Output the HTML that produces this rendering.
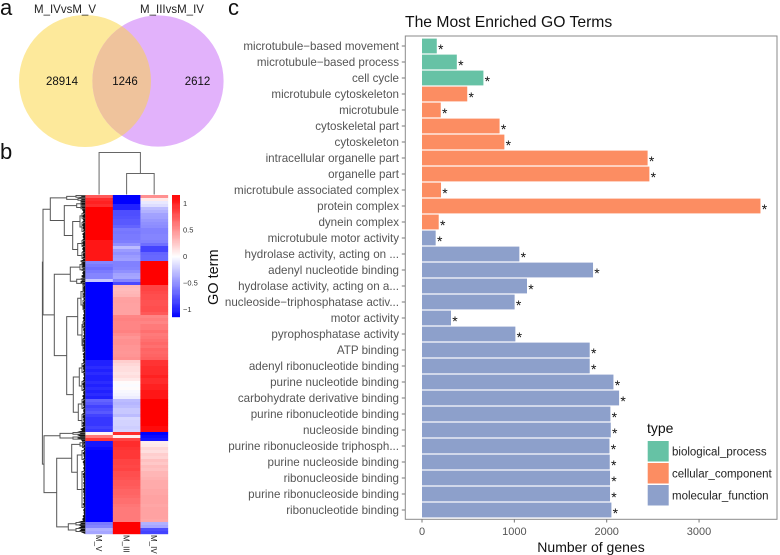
<!DOCTYPE html>
<html lang="en">
<head>
<meta charset="utf-8">
<title>GO enrichment figure</title>
<style>
html,body{margin:0;padding:0;background:#fff;}
#figure{display:block;width:780px;height:555px;overflow:hidden;font-family:"Liberation Sans",Arial,sans-serif;}
</style>
</head>
<body>
<svg id="figure" xmlns="http://www.w3.org/2000/svg" width="780" height="555" viewBox="0 0 780 555">
  <rect x="0" y="0" width="780" height="555" fill="#fff"/>
  <text x="0" y="15" font-size="22" fill="#111">a</text>
  <text x="0" y="159" font-size="22" fill="#111">b</text>
  <text x="228" y="15" font-size="22" fill="#111">c</text>

  <g>
    <defs><clipPath id="venn-clip"><circle cx="85" cy="81" r="66"/></clipPath></defs>
    <circle cx="85" cy="81" r="66" fill="#FDE99B"/>
    <circle cx="158" cy="81" r="65.6" fill="#E2B2FB"/>
    <circle cx="158" cy="81" r="65.6" fill="#EFC39C" clip-path="url(#venn-clip)"/>
    <text x="65" y="13" font-size="11.5" text-anchor="middle" fill="#222">M_IVvsM_V</text>
    <text x="172" y="13" font-size="11.5" text-anchor="middle" fill="#222">M_IIIvsM_IV</text>
    <text x="62" y="85" font-size="11.5" text-anchor="middle" fill="#111">28914</text>
    <text x="125" y="85" font-size="11.5" text-anchor="middle" fill="#111">1246</text>
    <text x="197.500" y="85" font-size="11.5" text-anchor="middle" fill="#111">2612</text>
  </g>

  <g id="heatmap"></g>
  <g id="col-dendrogram"></g>
  <g id="row-dendrogram"></g>
  <g id="colorbar"></g>
  <text transform="translate(218,305) rotate(-90)" font-size="14.500" fill="#111">GO term</text>

  <text x="405" y="27" font-size="15.700" fill="#111">The Most Enriched GO Terms</text>
  <g id="bar-chart"></g>
  <text x="591" y="552" font-size="14" text-anchor="middle" fill="#111">Number of genes</text>

  <g id="legend"></g>
</svg>

<script>
var NS = "http://www.w3.org/2000/svg";

/* ---------- bar chart data ---------- */
var goTerms = ["microtubule\u2212based movement","microtubule\u2212based process","cell cycle","microtubule cytoskeleton","microtubule","cytoskeletal part","cytoskeleton","intracellular organelle part","organelle part","microtubule associated complex","protein complex","dynein complex","microtubule motor activity","hydrolase activity, acting on ...","adenyl nucleotide binding","hydrolase activity, acting on a...","nucleoside\u2212triphosphatase activ...","motor activity","pyrophosphatase activity","ATP binding","adenyl ribonucleotide binding","purine nucleotide binding","carbohydrate derivative binding","purine ribonucleotide binding","nucleoside binding","purine ribonucleoside triphosph...","purine nucleoside binding","ribonucleoside binding","purine ribonucleoside binding","ribonucleotide binding"];
var geneCounts = [160,377,665,490,203,840,892,2443,2462,206,3665,181,148,1054,1852,1137,1003,314,1011,1816,1816,2073,2134,2040,2044,2030,2033,2036,2036,2051];
var termTypes = ["bp","bp","bp","cc","cc","cc","cc","cc","cc","cc","cc","cc","mf","mf","mf","mf","mf","mf","mf","mf","mf","mf","mf","mf","mf","mf","mf","mf","mf","mf"];
var xTicks = [0,1000,2000,3000];
var legendKeys = ["bp","cc","mf"];
var legendLabels = ["biological_process","cellular_component","molecular_function"];

/* ---------- heatmap data ---------- */
var heatColumns = ["M_V","M_III","M_IV"];
var valuesMV = [0.75,0.95,1,0.95,1.15,1.15,1.15,1.15,1.15,1.15,1.15,1.15,1.15,1.15,1.15,1.05,1.05,1.05,1.05,1.05,1.05,1.05,-0.55,-0.6,-0.65,-0.6,-0.55,-0.55,-0.25,-1.15,-1.15,-1.15,-1.15,-1.15,-1.15,-1.15,-1.15,-1.15,-1.15,-1.15,-1.15,-1.15,-1.15,-1.15,-1.15,-1.15,-1.15,-1.15,-1.15,-1.15,-1.15,-1.15,-1.15,-1.15,-1.15,-1,-1,-0.95,-1,-0.95,-1,-1,-0.95,-1,-0.95,-1,-0.95,-1,-0.7,-0.75,-0.85,-0.8,-0.75,-0.85,-0.9,-0.9,-0.9,-0.85,-0.9,0.05,0.6,0.9,-1.05,-1.05,-1.1,-1.15,-1.15,-1.15,-1.15,-1.15,-1.15,-1.15,-1.15,-1.15,-1.15,-1.15,-1.15,-1.15,-1.15,-1.15,-1.15,-1.15,-1.15,-1.15,-1.15,-1.15,-1.15,-1.15,-1.15,-0.6,-0.55,-0.35,-0.4];
var valuesMIII = [-1.15,-1.15,-1.15,-1,-1,-0.8,-0.8,-0.78,-0.75,-0.75,-0.7,-0.6,-0.62,-0.6,-0.6,-0.58,-0.5,-0.3,-0.45,-0.5,-0.45,-0.43,-0.57,-0.57,-0.55,-0.5,-0.42,-0.4,-0.55,-0.82,0.32,0.3,0.32,0.34,0.42,0.43,0.42,0.42,0.42,0.42,0.55,0.57,0.55,0.55,0.55,0.57,0.52,0.48,0.5,0.5,0.48,0.48,0.47,0.48,0.5,0.22,0.18,0.15,0.15,0.12,0.15,0.1,0.02,-0.02,0.02,-0.03,-0.05,-0.08,-0.3,-0.33,-0.3,-0.25,-0.25,-0.3,-0.18,-0.2,-0.2,-0.22,-0.2,0.95,0.08,0.85,0.95,0.95,0.92,0.9,0.9,0.9,0.85,0.85,0.83,0.85,0.8,0.8,0.78,0.75,0.75,0.73,0.7,0.7,0.68,0.65,0.65,0.62,0.6,0.6,0.6,0.6,0.6,1.15,1.15,1.15,1.15];
var valuesMIV = [0.5,0.1,-0.1,-0.15,-0.3,-0.35,-0.42,-0.43,-0.47,-0.5,-0.52,-0.57,-0.57,-0.55,-0.55,-0.57,-0.65,-0.85,-0.85,-0.7,-0.68,-0.68,1.15,1.15,1.15,1.15,1.15,1.15,1.15,1.15,0.85,0.85,0.82,0.8,0.8,0.78,0.78,0.8,0.8,0.75,0.55,0.58,0.55,0.6,0.6,0.65,0.6,0.62,0.65,0.68,0.65,0.7,0.68,0.7,0.72,0.92,0.92,0.95,0.95,0.95,1,0.95,0.95,1,1,1.05,1.05,1.05,1.15,1.15,1.15,1.15,1.15,1.15,1.15,1.15,1.15,1.1,1.1,-1.15,-1.1,-1.05,0.08,0.1,0.18,0.15,0.22,0.2,0.28,0.25,0.3,0.28,0.33,0.33,0.35,0.38,0.38,0.38,0.4,0.4,0.42,0.42,0.42,0.4,0.42,0.42,0.42,0.42,0.4,-0.35,-0.4,-0.8,-0.85];
var colorbarTicks = [1,0.5,0,-0.5,-1];
var colorbarLabels = ["1","0.5","0","\u22120.5","\u22121"];

/* Row dendrogram: [merge height, childA, childB]; a bare number is a row index. */
var rowTree = [42.6,
  [42,
    [34.7,
      [18.3,[9,0,0.6],[7,1,1.6]],
      [20.7,
        [8.3,[4,2.3,3.2],[4,3.6,4.4]],
        [12.3,[5,[3,6,7.6],[3,9,12]],[7.3,[3,15,17],[3,19,21]]]]],
    [30.7,
      [14.7,[5,[3,22,24],[3,24.5,25]],[8.3,[3,27.6,28.2],[2.5,29,29.6]]],
      [18.3,
        [7.3,[4,[2,30,34],[2,35,38]],[3,[2,42,44],[2,48,52]]],
        [11.7,[5.7,[3,56,59],[3,62,65]],[6.7,[3,68,71],[3,73,77]]]]]],
  [41,
    [25,[12,79,79.6],[12,80.5,81.2]],
    [28.3,
      [13.3,[5,[2.5,82,82.8],[2.5,83,84]],[7.7,[3,85,88],[3,92,104]]],
      [16.7,[9,109,109.8],[9,111,112]]]]];
/* Depth of the dense leaf fringe, one value per heatmap row. */
var fringeDepth = [6,6,5,5,4,3,2.5,3,2.5,3,3,2.5,2,3,2.5,3,3,3.5,3,3,2.5,3,5,4,3.5,3,3,4,5,5,2,2.5,1.5,2,2.5,1.5,2,3,2.5,1.5,2,2.5,2,1.5,2.5,2,1.5,2,2.5,1.5,2,2,1.5,2.5,2,2.5,2,3,2,2.5,1.5,2,2.5,3,2,2.5,2,3,2.5,3,2,2.5,2,3,2.5,2,3,3,5,8,8,8,3,2.5,2,1.5,2.5,1.5,2,2.5,1.5,2,1.5,2.5,2,1.5,2,1.5,2.5,2,1.5,2,1.5,2.5,1.5,2,1.5,2.5,3,7,7,7,6];
/* Column dendrogram merge heights: lower merge of M_III/M_IV, then root. */
var colMergeLow = 21;
var colMergeRoot = 42;

var typeColors = {bp:"#66C2A5",cc:"#FC8D62",mf:"#8DA0CB"};

/* ---------- helpers and scales ---------- */
function make(parent, tag, attrs, text) {
  var el = document.createElementNS(NS, tag);
  for (var k in attrs) { el.setAttribute(k, attrs[k]); }
  if (text !== undefined) { el.textContent = text; }
  parent.appendChild(el);
  return el;
}
var barX = function (v) { return 422 + v * 0.09235; };
var barY = function (i) { return 46 + 16 * i; };
var rowHeight = 3;
var heatTop = 195;
var heatLeft = 85.3;
var heatColWidth = 27.55;
var rowY = function (i) { return heatTop + rowHeight * i; };
var colX = function (j) { return heatLeft + heatColWidth * j; };
var heightX = function (h) { return 85 - h; };
var cbarY = function (v) { return 256 - v * 53; };
function heatColor(v) {
  var t = Math.max(-1, Math.min(1, v / 1.15));
  var c = Math.round(255 * (1 - Math.abs(t)));
  return t >= 0 ? "rgb(255," + c + "," + c + ")" : "rgb(" + c + "," + c + ",255)";
}

/* ---------- bar chart ---------- */
var barChart = document.getElementById("bar-chart");
var panelBorder = make(barChart, "rect", {x:405.3,y:36,width:371.7,height:483.3,fill:"none",stroke:"#8a8a8a","stroke-width":1});



geneCounts.forEach(function (v, i) {
  var bar = make(barChart, "rect", {x:barX(0),y:barY(i)-7.4,width:barX(v)-barX(0),height:14.8,fill:typeColors[termTypes[i]]});
  
  
  var star = make(barChart, "text", {x:barX(v)+4,y:barY(i)+8,"font-size":14,"text-anchor":"middle",fill:"#111"}, "*");
  
  
  var tick = make(barChart, "line", {x1:401.8,x2:405,y1:barY(i),y2:barY(i),stroke:"#777","stroke-width":1});
  
  
  var label = make(barChart, "text", {x:399,y:barY(i)+4,"font-size":11.6,"text-anchor":"end",fill:"#555"}, goTerms[i]);
  
  
});
xTicks.forEach(function (v, i) {
  var tick = make(barChart, "line", {x1:barX(v),x2:barX(v),y1:519.5,y2:522.5,stroke:"#777","stroke-width":1});
  
  
  var label = make(barChart, "text", {x:barX(v),y:535,"font-size":11,"text-anchor":"middle",fill:"#555"}, String(v));
  
  
});

/* ---------- legend ---------- */
var legend = document.getElementById("legend");
var legendTitle = make(legend, "text", {x:647,y:433,"font-size":14,fill:"#111"}, "type");


legendKeys.forEach(function (key, i) {
  var y = 441 + 22 * i;
  var swatch = make(legend, "rect", {x:647.7,y:y,width:21,height:20.5,fill:typeColors[key]});
  
  
  var text = make(legend, "text", {x:672,y:y+14.3,"font-size":11.5,fill:"#222"}, legendLabels[i]);
  
  
});

/* ---------- heatmap ---------- */
var heatmap = document.getElementById("heatmap");
[valuesMV, valuesMIII, valuesMIV].forEach(function (values, j) {
  values.forEach(function (v, i) {
    var cell = make(heatmap, "rect", {x:colX(j),y:rowY(i),width:heatColWidth+0.2,height:rowHeight+0.2,fill:heatColor(v)});
    
    
  });
  var label = make(heatmap, "text", {transform:"translate(" + (colX(j)+heatColWidth/2-3) + ",535) rotate(90)","font-size":8,fill:"#222"}, heatColumns[j]);
  
  
});

/* ---------- column dendrogram ---------- */
var colDen = document.getElementById("col-dendrogram");
var colCenter = function (j) { return colX(j) + heatColWidth / 2; };
var colBase = 194.5;
var colMid = (colCenter(1) + colCenter(2)) / 2;
var colPath = "M" + colCenter(1) + " " + colBase + "V" + (colBase-colMergeLow) + "H" + colCenter(2) + "V" + colBase +
  "M" + colMid + " " + (colBase-colMergeLow) + "V" + (colBase-colMergeRoot) + "H" + colCenter(0) + "V" + colBase;
var colLines = make(colDen, "path", {d:colPath,fill:"none",stroke:"#666","stroke-width":1});



/* ---------- row dendrogram ---------- */
var rowDen = document.getElementById("row-dendrogram");
var fringePts = "85.3," + rowY(0);
fringeDepth.forEach(function (d, i) {
  fringePts += " " + heightX(d) + "," + rowY(i) + " " + heightX(d * 0.55) + "," + (rowY(i) + 1.5);
});
fringePts += " 85.3," + rowY(fringeDepth.length);
var fringe = make(rowDen, "polygon", {points:fringePts,fill:"#111"});



var rowSegs = "";
function drawNode(node) {
  if (typeof node === "number") { return {x:85, y:rowY(node) + 0.5}; }
  var a = drawNode(node[1]);
  var b = drawNode(node[2]);
  var x = heightX(node[0]);
  rowSegs += "M" + a.x + " " + a.y + "H" + x + "V" + b.y + "H" + b.x;
  return {x:x, y:(a.y + b.y) / 2};
}
drawNode(rowTree);
var rowLines = make(rowDen, "path", {d:rowSegs,fill:"none",stroke:"#555","stroke-width":1});



/* ---------- colour bar ---------- */
var colorbar = document.getElementById("colorbar");
for (var cv = 1.15; cv > -1.15; cv -= 0.02) {
  var slice = make(colorbar, "rect", {x:172,y:cbarY(cv),width:8,height:1.3,fill:heatColor(cv)});
  
  
}
colorbarTicks.forEach(function (v, i) {
  var label = make(colorbar, "text", {x:183,y:cbarY(v)+2.8,"font-size":7.5,fill:"#333"}, colorbarLabels[i]);
  
  
});
</script>
</body>
</html>
